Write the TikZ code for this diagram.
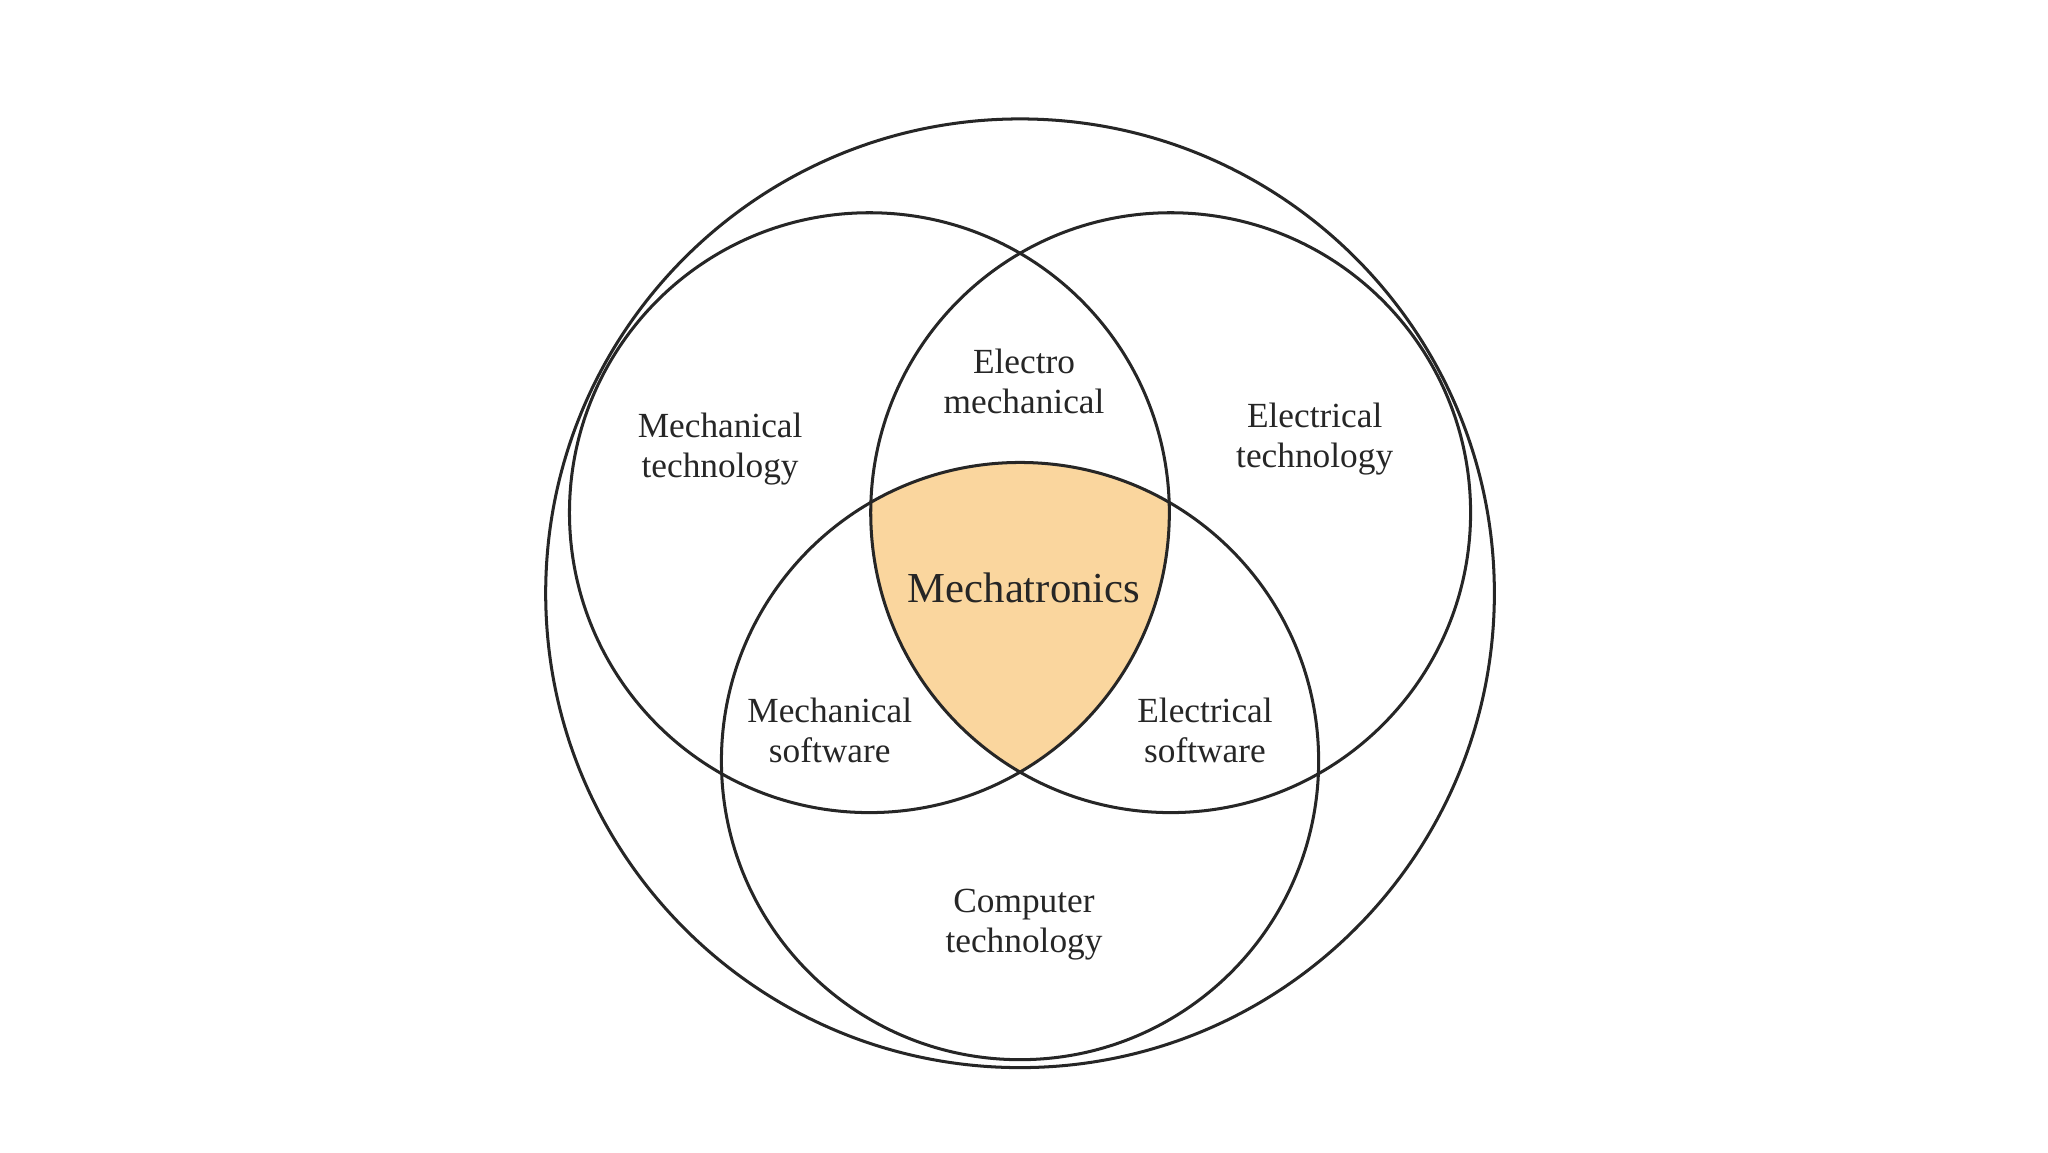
\documentclass[tikz,border=0pt]{standalone}
\usepackage{fontspec}
\setmainfont{Liberation Serif}
\definecolor{core}{RGB}{250,214,158}
\begin{document}
\begin{tikzpicture}[x=0.01cm,y=-0.01cm,
  ring/.style={draw=black!85,line width=0.65pt},
  lbl/.style={align=center,font=\fontsize{7.6}{8.6}\selectfont,text=black!85}]
\useasboundingbox (0,0) rectangle (1550,872);
\begin{scope}
  \clip (658,388) circle (227);
  \clip (886,388) circle (227);
  \fill[core] (772,576) circle (226);
\end{scope}
\draw[ring] (772,449) circle (359);
\draw[ring] (658,388) circle (227);
\draw[ring] (886,388) circle (227);
\draw[ring] (772,576) circle (226);
\node[lbl] (mt) at (545,340) {Mechanical\\technology};
\node[lbl] (em) at (775,289) {Electro\\mechanical};
\node[lbl] (et) at (995,332) {Electrical\\technology};
\node[lbl,font=\fontsize{9.2}{10}\selectfont] (mx) at (775,445) {Mechatronics};
\node[lbl] (ms) at (628,553) {Mechanical\\software};
\node[lbl] (es) at (912,553) {Electrical\\software};
\node[lbl] (ct) at (775,700) {Computer\\technology};
\end{tikzpicture}
\end{document}
